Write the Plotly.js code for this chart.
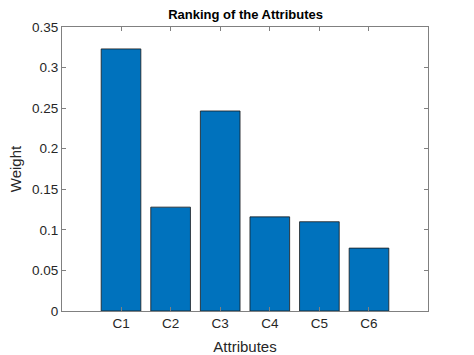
<!DOCTYPE html>
<html>
<head>
<meta charset="utf-8">
<script src="https://cdn.plot.ly/plotly-3.0.1.min.js"></script>
<style>html,body{margin:0;padding:0;background:#fff;}#chart{width:474px;height:355px;}</style>
</head>
<body>
<div id="chart"></div>
<script>
const categories = ["C1", "C2", "C3", "C4", "C5", "C6"];
const weights = [0.323, 0.128, 0.2465, 0.116, 0.110, 0.0775];
const yTicks = [0, 0.05, 0.1, 0.15, 0.2, 0.25, 0.3, 0.35];
const yTickLabels = ["0", "0.05", "0.1", "0.15", "0.2", "0.25", "0.3", "0.35"];

const font = "Liberation Sans, Arial, sans-serif";
const trace = {
  type: "bar",
  x: categories,
  y: weights,
  width: 0.8,
  marker: {color: "#0072BD", line: {color: "#1a1a1a", width: 0.8}},
  hoverinfo: "none"
};
const layout = {
  width: 474, height: 355,
  margin: {l: 62, r: 46, t: 27, b: 44},
  paper_bgcolor: "#fff", plot_bgcolor: "#fff",
  showlegend: false,
  title: {text: "<b>Ranking of the Attributes</b>", font: {family: font, size: 13, color: "#000"}, x: 0.518, xanchor: "center", y: 0.958, yanchor: "middle"},
  xaxis: {
    type: "category",
    range: [-1.19, 6.19],
    showline: true, linecolor: "#808080", linewidth: 1, mirror: "ticks",
    ticks: "inside", ticklen: 4, tickcolor: "#808080",
    tickfont: {family: font, size: 13.5, color: "#262626"},
    showgrid: false, zeroline: false,
    title: {text: "Attributes", font: {family: font, size: 15, color: "#262626"}, standoff: 11}
  },
  yaxis: {
    range: [0, 0.35],
    tickvals: yTicks, ticktext: yTickLabels,
    showline: true, linecolor: "#808080", linewidth: 1, mirror: "ticks",
    ticks: "inside", ticklen: 4, tickcolor: "#808080",
    tickfont: {family: font, size: 13.5, color: "#262626"},
    showgrid: false, zeroline: false,
    title: {text: "Weight", font: {family: font, size: 15, color: "#262626"}, standoff: 6}
  }
};
Plotly.newPlot("chart", [trace], layout, {staticPlot: true, displayModeBar: false});
</script>
</body>
</html>
